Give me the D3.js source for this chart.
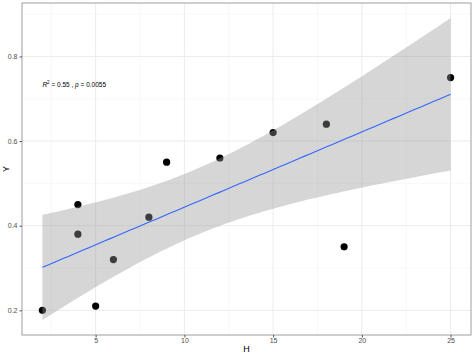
<!DOCTYPE html>
<html><head><meta charset="utf-8">
<script src="https://cdn.jsdelivr.net/npm/d3@7"></script>
<style>body{margin:0;background:#fff}svg{display:block}</style>
</head><body>
<script>
const H = [2, 4, 4, 5, 6, 8, 9, 12, 15, 18, 19, 25];
const Y = [0.20, 0.45, 0.38, 0.21, 0.32, 0.42, 0.55, 0.56, 0.62, 0.64, 0.35, 0.75];
const xTicks = [5, 10, 15, 20, 25];
const yTicks = [0.2, 0.4, 0.6, 0.8];
const xMinor = [2.5, 7.5, 12.5, 17.5, 22.5];
const yMinor = [0.3, 0.5, 0.7, 0.9];
const annotation = {r2: "0.55", p: "0.0055"};

const W = 474, Ht = 353;
const m = {l: 22, r: 3, t: 3, b: 18};
const svg = d3.select("body").append("svg").attr("width", W).attr("height", Ht);
const FONT = "Liberation Sans, Arial, sans-serif";

// linear fit + 95% CI
const n = H.length;
const mx = d3.mean(H), my = d3.mean(Y);
const Sxx = d3.sum(H, x => (x - mx) ** 2);
const Sxy = d3.sum(H.map((x, i) => (x - mx) * (Y[i] - my)));
const b = Sxy / Sxx, a = my - b * mx;
const sse = d3.sum(H.map((x, i) => (Y[i] - a - b * x) ** 2));
const s = Math.sqrt(sse / (n - 2));
const tq = 2.228139;
const xs = d3.range(80).map(i => d3.min(H) + i * (d3.max(H) - d3.min(H)) / 79);
const fit = xs.map(x => {
  const yh = a + b * x;
  const se = s * Math.sqrt(1 / n + (x - mx) ** 2 / Sxx);
  return {x, y: yh, lo: yh - tq * se, hi: yh + tq * se};
});

const xmin = d3.min(H), xmax = d3.max(H);
const ymin = Math.min(d3.min(Y), d3.min(fit, d => d.lo));
const ymax = Math.max(d3.max(Y), d3.max(fit, d => d.hi));
const ex = (xmax - xmin) * 0.05, ey = (ymax - ymin) * 0.05;
const x = d3.scaleLinear().domain([xmin - ex, xmax + ex]).range([m.l, W - m.r]);
const y = d3.scaleLinear().domain([ymin - ey, ymax + ey]).range([Ht - m.b, m.t]);

const g = svg.append("g");
// grid
g.selectAll(".xm").data(xMinor).join("line").attr("x1", d => x(d)).attr("x2", d => x(d))
  .attr("y1", m.t).attr("y2", Ht - m.b).attr("stroke", "#f4f4f4").attr("stroke-width", 0.6);
g.selectAll(".ym").data(yMinor).join("line").attr("y1", d => y(d)).attr("y2", d => y(d))
  .attr("x1", m.l).attr("x2", W - m.r).attr("stroke", "#f4f4f4").attr("stroke-width", 0.6);
g.selectAll(".xM").data(xTicks).join("line").attr("x1", d => x(d)).attr("x2", d => x(d))
  .attr("y1", m.t).attr("y2", Ht - m.b).attr("stroke", "#ebebeb").attr("stroke-width", 1);
g.selectAll(".yM").data(yTicks).join("line").attr("y1", d => y(d)).attr("y2", d => y(d))
  .attr("x1", m.l).attr("x2", W - m.r).attr("stroke", "#ebebeb").attr("stroke-width", 1);

// points
g.selectAll("circle").data(H.map((h, i) => [h, Y[i]])).join("circle")
  .attr("cx", d => x(d[0])).attr("cy", d => y(d[1])).attr("r", 3.6).attr("fill", "#000");

// band
g.append("path").datum(fit)
  .attr("d", d3.area().x(d => x(d.x)).y0(d => y(d.lo)).y1(d => y(d.hi)))
  .attr("fill", "#999999").attr("fill-opacity", 0.4);
g.append("path").datum(fit)
  .attr("d", d3.line().x(d => x(d.x)).y(d => y(d.y)))
  .attr("fill", "none").attr("stroke", "#3366FF").attr("stroke-width", 1.1);

// annotation
const t = svg.append("text").attr("x", x(2.0)).attr("y", y(0.728))
  .attr("font-family", FONT).attr("font-size", 6.5).attr("fill", "#000");
t.append("tspan").attr("font-style", "italic").text("R");
t.append("tspan").attr("dy", -3).attr("font-size", 4.5).text("2");
t.append("tspan").attr("dy", 3).text(" = " + annotation.r2 + " , ");
t.append("tspan").attr("font-style", "italic").text("p");
t.append("tspan").text(" = " + annotation.p);

// panel border
svg.append("rect").attr("x", m.l).attr("y", m.t).attr("width", W - m.l - m.r).attr("height", Ht - m.t - m.b)
  .attr("fill", "none").attr("stroke", "#a6a6a6").attr("stroke-width", 1.1);

// axes
const xa = svg.append("g").attr("transform", `translate(0,${Ht - m.b})`)
  .call(d3.axisBottom(x).tickValues(xTicks).tickSize(2.5).tickPadding(1));
const ya = svg.append("g").attr("transform", `translate(${m.l},0)`)
  .call(d3.axisLeft(y).tickValues(yTicks).tickSize(2.5).tickPadding(2).tickFormat(d3.format(".1f")));
[xa, ya].forEach(ax => {
  ax.select(".domain").remove();
  ax.selectAll("line").attr("stroke", "#555");
  ax.selectAll("text").attr("fill", "#4d4d4d").attr("font-size", 7)
    .attr("font-family", FONT);
});

svg.append("text").attr("x", (m.l + W - m.r) / 2).attr("y", Ht - 1.5).attr("text-anchor", "middle")
  .attr("font-family", FONT).attr("font-size", 9).attr("fill", "#000").text("H");
svg.append("text").attr("transform", `translate(9,${(m.t + Ht - m.b) / 2}) rotate(-90)`)
  .attr("text-anchor", "middle").attr("font-family", FONT)
  .attr("font-size", 9).attr("fill", "#000").text("Y");
</script>
</body></html>
